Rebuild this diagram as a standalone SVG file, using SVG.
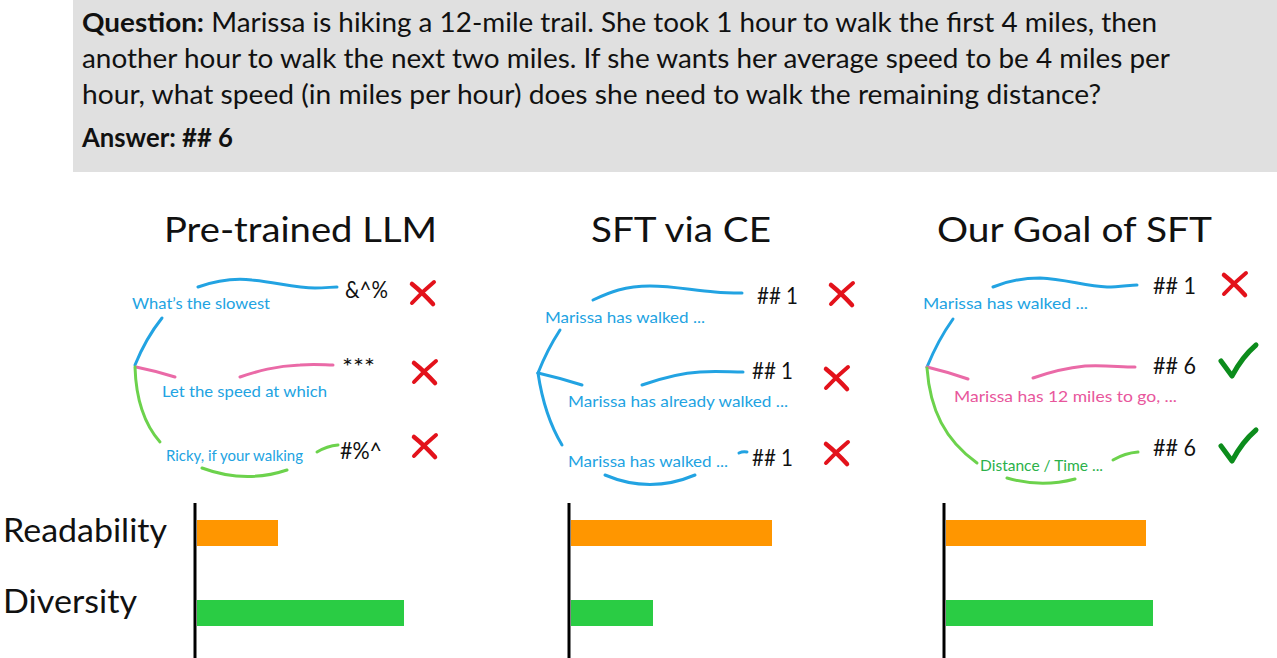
<svg xmlns="http://www.w3.org/2000/svg" width="1277" height="658" viewBox="0 0 1277 658">
<defs>
<style>
.q{font-family:Lato,"Liberation Sans",sans-serif;font-size:27px;fill:#111}
.b{font-weight:bold}
.title{font-family:"Lato","DejaVu Sans",sans-serif;font-size:35px;fill:#111}
.metric{font-family:"Lato","DejaVu Sans",sans-serif;font-size:33px;fill:#111}
.lbl{font-family:Lato,"Liberation Sans",sans-serif;font-size:16px}
.blue{fill:#22a3e2}
.pink{fill:#e8569c}
.grn{fill:#2bb14a}
.ans{font-family:Lato,"Liberation Sans",sans-serif;font-size:23px;fill:#111}
.cb{fill:none;stroke:#22a3e2;stroke-width:3;stroke-linecap:round}
.cp{fill:none;stroke:#ea6aa7;stroke-width:3;stroke-linecap:round}
.cg{fill:none;stroke:#6cd24c;stroke-width:3;stroke-linecap:round}
.axis{stroke:#000;stroke-width:3}
.or{fill:#ff9600}
.gr{fill:#2acc44}
</style>
<g id="xmark">
<path d="M-11,-9 Q-1,-1 10,11" fill="none" stroke="#e3121b" stroke-width="4.5" stroke-linecap="round"/>
<path d="M11,-11 Q0,-2 -11,10" fill="none" stroke="#e3121b" stroke-width="4" stroke-linecap="round"/>
</g>
<g id="check">
<path d="M-17,-1 L-6,14 Q4,-5 18,-17" fill="none" stroke="#0c8c1c" stroke-width="5" stroke-linecap="round" stroke-linejoin="round"/>
</g>
</defs>
<rect width="1277" height="658" fill="#fff"/>

<g id="question">
<rect x="73" y="0" width="1204" height="172" fill="#e0e0e0"/>
<text class="q" x="82" y="32" textLength="1075" lengthAdjust="spacingAndGlyphs"><tspan class="b">Question:</tspan> Marissa is hiking a 12-mile trail. She took 1 hour to walk the first 4 miles, then</text>
<text class="q" x="82" y="68" textLength="1088" lengthAdjust="spacingAndGlyphs">another hour to walk the next two miles. If she wants her average speed to be 4 miles per</text>
<text class="q" x="82" y="104" textLength="1019" lengthAdjust="spacingAndGlyphs">hour, what speed (in miles per hour) does she need to walk the remaining distance?</text>
<text class="q b" x="82" y="147" textLength="151" lengthAdjust="spacingAndGlyphs">Answer: ## 6</text>
</g>

<g id="titles">
<text id="t-pre" class="title" x="164" y="242" textLength="273" lengthAdjust="spacingAndGlyphs">Pre-trained LLM</text>
<text id="t-sft" class="title" x="591" y="242" textLength="180" lengthAdjust="spacingAndGlyphs">SFT via CE</text>
<text id="t-goal" class="title" x="937" y="242" textLength="275" lengthAdjust="spacingAndGlyphs">Our Goal of SFT</text>
</g>

<g id="connectors">
<path class="cb" d="M135,365 Q146,338 162,318"/>
<path class="cb" d="M198,287 C215,281 235,278 252,280 C275,282 295,288 315,288 C325,288 332,287 337,287"/>
<path class="cp" d="M136,367 Q156,371 175,377"/>
<path class="cp" d="M240,377 C258,371 275,366 300,365 C315,364 325,365 333,365"/>
<path class="cg" d="M135,367 C136,400 145,425 160,442"/>
<path class="cg" d="M202,468 Q245,484 287,470"/>
<path class="cg" d="M317,452 Q327,446 338,445"/>
<path class="cb" d="M538,373 Q547,350 560,330"/>
<path class="cb" d="M593,300 C610,292 625,286 650,286 C675,286 695,291 715,292 C725,293 735,293 742,293"/>
<path class="cb" d="M538,373 Q560,378 582,385"/>
<path class="cb" d="M642,385 C662,378 680,373 700,372 C715,371 730,372 743,372"/>
<path class="cb" d="M538,373 C542,400 550,425 562,445"/>
<path class="cb" d="M605,475 Q650,494 695,475"/>
<path class="cb" d="M739,453 Q743,451 747,452"/>
<path class="cb" d="M927,367 Q938,340 953,319"/>
<path class="cb" d="M993,287 C1005,282 1018,278 1040,278 C1065,279 1085,286 1107,287 C1120,287 1130,285 1137,285"/>
<path class="cp" d="M927,367 Q948,372 968,379"/>
<path class="cp" d="M1033,378 C1050,372 1065,368 1085,366 C1105,365 1120,367 1135,367"/>
<path class="cg" d="M927,368 C930,410 945,440 977,463"/>
<path class="cg" d="M1007,478 Q1041,488 1075,479"/>
<path class="cg" d="M1113,460 Q1125,453 1138,452"/>
</g>

<g id="panel-pretrained">
<g id="p1-b1"><text class="lbl blue" x="132" y="309" textLength="138" lengthAdjust="spacingAndGlyphs">What’s the slowest</text>
<text class="ans" x="345" y="298" textLength="43" lengthAdjust="spacingAndGlyphs">&amp;^%</text>
<use href="#xmark" x="423" y="293"/></g>
<g id="p1-b2"><text class="lbl blue" x="162" y="397" textLength="165" lengthAdjust="spacingAndGlyphs">Let the speed at which</text>
<text class="ans" x="342" y="375" textLength="33" lengthAdjust="spacingAndGlyphs">***</text>
<use href="#xmark" x="425" y="372"/></g>
<g id="p1-b3"><text class="lbl blue" x="166" y="461" font-size="15" textLength="137" lengthAdjust="spacingAndGlyphs">Ricky, if your walking</text>
<text class="ans" x="340" y="459" textLength="42" lengthAdjust="spacingAndGlyphs">#%^</text>
<use href="#xmark" x="425" y="446"/></g>
</g>

<g id="panel-sft">
<g id="p2-b1"><text class="lbl blue" x="545" y="323" textLength="160" lengthAdjust="spacingAndGlyphs">Marissa has walked ...</text>
<text class="ans" x="757" y="304" textLength="41" lengthAdjust="spacingAndGlyphs">## 1</text>
<use href="#xmark" x="842" y="294"/></g>
<g id="p2-b2"><text class="lbl blue" x="568" y="407" textLength="220" lengthAdjust="spacingAndGlyphs">Marissa has already walked ...</text>
<text class="ans" x="752" y="379" textLength="41" lengthAdjust="spacingAndGlyphs">## 1</text>
<use href="#xmark" x="837" y="378"/></g>
<g id="p2-b3"><text class="lbl blue" x="568" y="467" textLength="160" lengthAdjust="spacingAndGlyphs">Marissa has walked ...</text>
<text class="ans" x="752" y="466" textLength="41" lengthAdjust="spacingAndGlyphs">## 1</text>
<use href="#xmark" x="837" y="453"/></g>
</g>

<g id="panel-goal">
<g id="p3-b1"><text class="lbl blue" x="923" y="309" textLength="165" lengthAdjust="spacingAndGlyphs">Marissa has walked ...</text>
<text class="ans" x="1153" y="294" textLength="43" lengthAdjust="spacingAndGlyphs">## 1</text>
<use href="#xmark" x="1235" y="284"/></g>
<g id="p3-b2"><text class="lbl pink" x="954" y="402" textLength="223" lengthAdjust="spacingAndGlyphs">Marissa has 12 miles to go, ...</text>
<text class="ans" x="1153" y="374" textLength="43" lengthAdjust="spacingAndGlyphs">## 6</text>
<use href="#check" x="1238" y="362"/></g>
<g id="p3-b3"><text class="lbl grn" x="980" y="471" textLength="123" lengthAdjust="spacingAndGlyphs">Distance / Time ...</text>
<text class="ans" x="1153" y="456" textLength="43" lengthAdjust="spacingAndGlyphs">## 6</text>
<use href="#check" x="1238" y="447"/></g>
</g>

<g id="metrics">
<text class="metric" x="3" y="542" textLength="164" lengthAdjust="spacingAndGlyphs">Readability</text>
<text class="metric" x="3" y="613" textLength="134" lengthAdjust="spacingAndGlyphs">Diversity</text>
</g>

<g id="bars-pretrained">
<line class="axis" x1="195" y1="503" x2="195" y2="658"/>
<rect class="or" x="197" y="520" width="81" height="26"/>
<rect class="gr" x="197" y="600" width="207" height="26"/>
</g>
<g id="bars-sft">
<line class="axis" x1="569" y1="503" x2="569" y2="658"/>
<rect class="or" x="571" y="520" width="201" height="26"/>
<rect class="gr" x="571" y="600" width="82" height="26"/>
</g>
<g id="bars-goal">
<line class="axis" x1="944" y1="503" x2="944" y2="658"/>
<rect class="or" x="946" y="520" width="200" height="26"/>
<rect class="gr" x="946" y="600" width="207" height="26"/>
</g>
</svg>
